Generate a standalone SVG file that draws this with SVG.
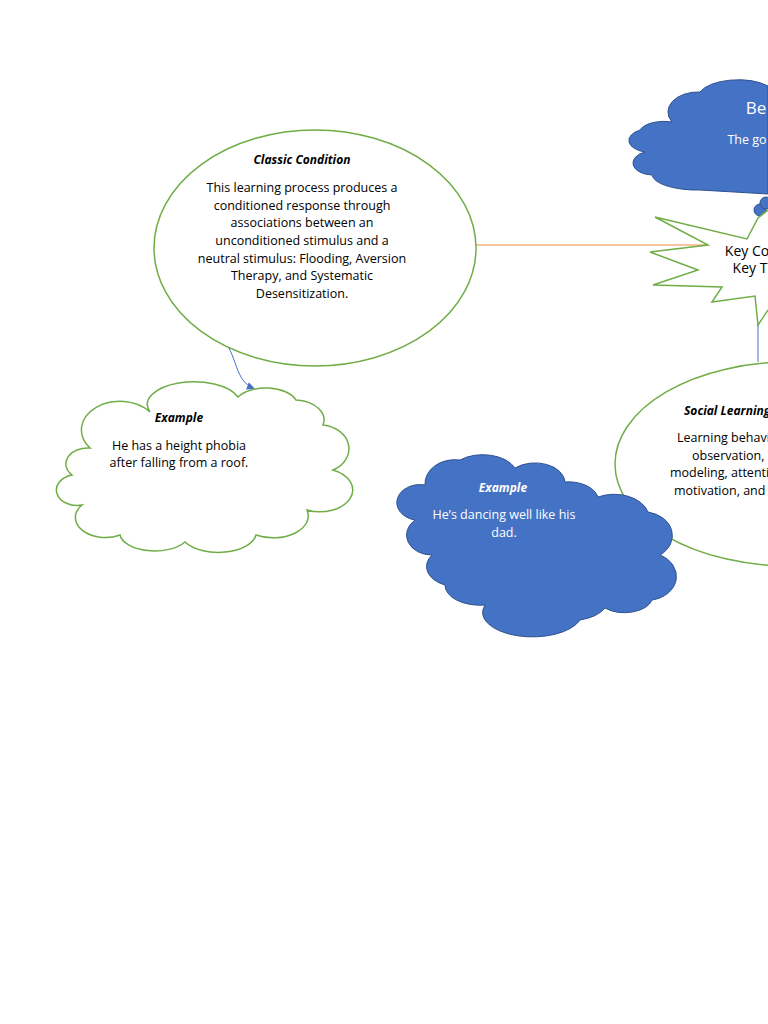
<svg xmlns="http://www.w3.org/2000/svg" width="768" height="1024" viewBox="0 0 768 1024">
<style>
.g{fill:#fff;stroke:#70ad47;stroke-width:1.5}
.b{fill:#4472c4;stroke:#2f528f;stroke-width:1}
text{font-family:"Open Sans","Noto Sans",sans-serif;font-size:12.5px;text-anchor:middle;fill:#000}
.t{font-style:italic;font-weight:bold;font-size:12px}
.w{fill:#fff}
</style>
<defs><marker id="ar" markerWidth="8" markerHeight="8" refX="6" refY="4" orient="auto"><path d="M0,0L8,4L0,8z" fill="#4472c4"/></marker></defs>
<rect width="768" height="1024" fill="#fff"/>
<g id="connectors">
<line x1="476" y1="245" x2="708" y2="245" stroke="#f4b183" stroke-width="1.5"/>
<line x1="758" y1="322" x2="758" y2="362" stroke="#4472c4" stroke-width="1"/>
<path d="M216,336 C238,345 232,380 253,388" fill="none" stroke="#4472c4" stroke-width="1" marker-end="url(#ar)"/>
</g>
<g id="behaviorism">
<path class="b" d="M672,122 A30,20 0 0 1 700,92 A40,18 0 0 1 768,86 L768,194 L700,190 A45,16 0 0 1 652,175 A20,12 0 0 1 645,152 A22,12 0 0 1 640,130 A25,12 0 0 1 672,122 Z"/>
<circle class="b" cx="760" cy="210" r="6"/>
<circle class="b" cx="766" cy="203" r="6"/>
<text class="w" x="756" y="114" style="font-size:17px">Be</text>
<text class="w" x="747" y="144">The go</text>
</g>
<g id="key">
<path class="g" d="M768,210 L758,218 L747,239 L655,217 L708,245 L650,252 L698,270 L653,285 L722,287 L712,302 L755,296 L758,325 L768,310"/>
<text x="747" y="256" style="font-size:14px">Key Co</text>
<text x="750" y="273" style="font-size:14px">Key T</text>
</g>
<g id="classic">
<ellipse class="g" cx="315" cy="248" rx="161" ry="118"/>
<text class="t" x="302" y="164">Classic Condition</text>
<text x="302" y="192">This learning process produces a</text>
<text x="302" y="210">conditioned response through</text>
<text x="302" y="227">associations between an</text>
<text x="302" y="245">unconditioned stimulus and a</text>
<text x="302" y="263">neutral stimulus: Flooding, Aversion</text>
<text x="302" y="280">Therapy, and Systematic</text>
<text x="302" y="298">Desensitization.</text>
</g>
<g id="example1">
<path class="g" d="M90,448 A35,26 0 0 1 150,412 A45,22 0 0 1 238,397 A32,18 0 0 1 296,400 A30,20 0 0 1 323,425 A30,24 0 0 1 333,470 A30,20 0 0 1 307,510 A35,22 0 0 1 256,535 A38,20 0 0 1 185,542 A35,18 0 0 1 120,535 A30,20 0 0 1 82,505 A20,15 0 0 1 72,475 A22,16 0 0 1 90,448 Z"/>
<text class="t" x="179" y="422">Example</text>
<text x="179" y="450">He has a height phobia</text>
<text x="179" y="467">after falling from a roof.</text>
</g>
<g id="social">
<ellipse class="g" cx="790" cy="464" rx="175" ry="102"/>
<text class="t" x="684" y="415" style="text-anchor:start">Social Learning</text>
<text x="677" y="442" style="text-anchor:start">Learning behavi</text>
<text x="692" y="460" style="text-anchor:start">observation,</text>
<text x="670" y="477" style="text-anchor:start">modeling, attenti</text>
<text x="674" y="495" style="text-anchor:start">motivation, and</text>
</g>
<g id="example2">
<path class="b" d="M425,485 A30,24 0 0 1 460,460 A35,22 0 0 1 515,468 A30,20 0 0 1 565,482 A30,20 0 0 1 598,497 A35,24 0 0 1 648,512 A30,24 0 0 1 660,555 A30,24 0 0 1 652,600 A28,16 0 0 1 605,608 A40,22 0 0 1 580,620 A45,22 0 0 1 485,605 A35,20 0 0 1 445,585 A30,20 0 0 1 432,555 A25,20 0 0 1 415,520 A22,17 0 0 1 425,485 Z"/>
<text class="t w" x="503" y="492">Example</text>
<text class="w" x="504" y="519">He’s dancing well like his</text>
<text class="w" x="504" y="537">dad.</text>
</g>
</svg>
